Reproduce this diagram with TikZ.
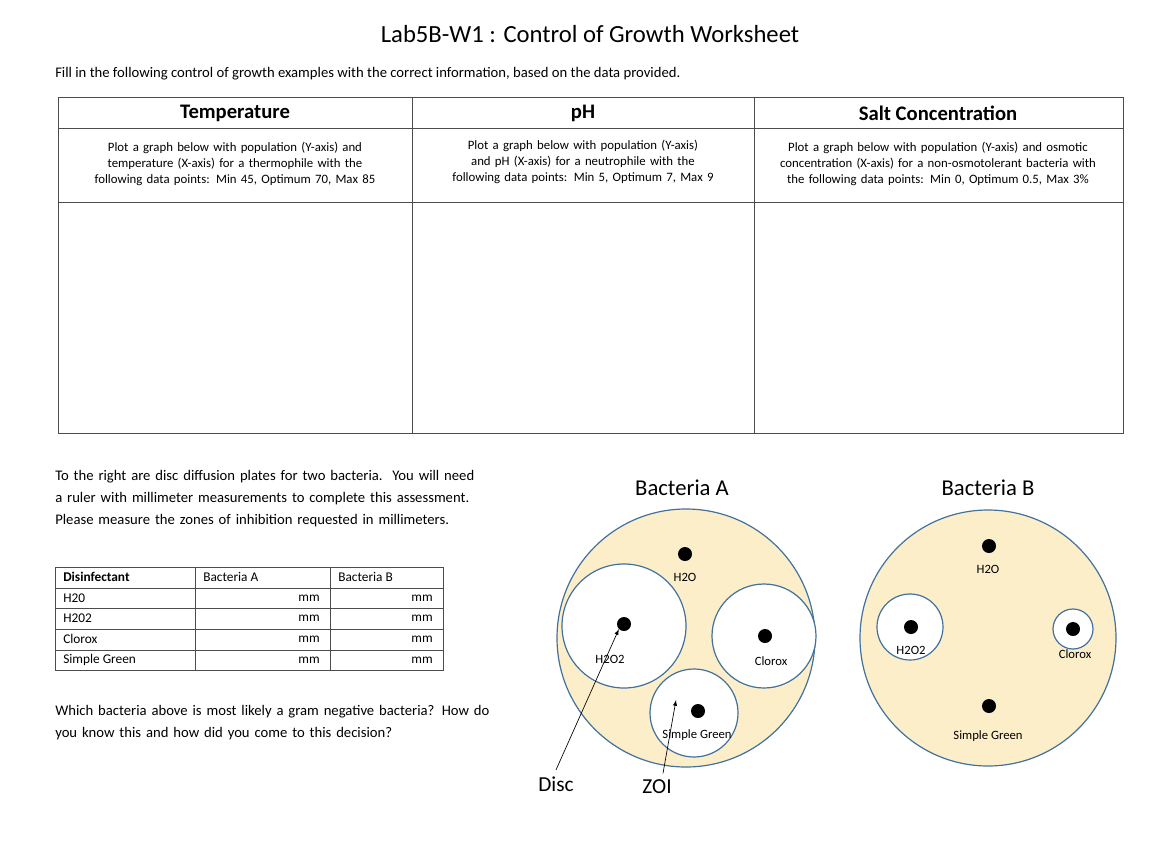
\documentclass[tikz,border=0pt]{standalone}
\usepackage{fontspec}
\setmainfont{Carlito}
\hyphenpenalty=10000 \exhyphenpenalty=10000
\definecolor{platefill}{RGB}{253,238,202}
\definecolor{plateline}{RGB}{65,113,156}
\begin{document}
\begin{tikzpicture}[x=0.75pt,y=-0.75pt,
  plate/.style={draw=plateline,line width=0.9pt,fill=platefill},
  zoi/.style={draw=plateline,line width=0.9pt,fill=white},
  disc/.style={circle,fill=black,inner sep=0pt,minimum size=10.5pt},
  lbl/.style={font=\fontsize{9.5}{11}\selectfont},
  grid/.style={draw=black!70,line width=0.5pt},
  desc/.style={font=\fontsize{9.6}{11.8}\selectfont,align=center,text width=240pt},
  body/.style={font=\fontsize{11}{16.5}\selectfont,align=left,anchor=north west,inner sep=0pt},
  cell/.style={font=\fontsize{10}{11}\selectfont,inner sep=0pt}]
\useasboundingbox (0,0) rectangle (1175,840);
\node (title) at (590,34) {\fontsize{18.5}{20}\selectfont Lab5B-W1 : Control of Growth Worksheet};
\node[body,anchor=west] (intro) at (55,74) {Fill in the following control of growth examples with the correct information, based on the data provided.};
% top table
\draw[grid] (58,97) rectangle (1123,433);
\draw[grid] (58,128) -- (1123,128) (58,202) -- (1123,202);
\draw[grid] (412,97) -- (412,433) (754,97) -- (754,433);
\node (h1) at (235,113) {\fontsize{15.5}{17}\selectfont\bfseries Temperature};
\node (h2) at (583,113) {\fontsize{15.5}{17}\selectfont\bfseries pH};
\node (h3) at (938,113) {\fontsize{15.5}{17}\selectfont\bfseries Salt Concentration};
\node[desc] (d1) at (235,164) {Plot a graph below with population (Y-axis) and temperature (X-axis) for a thermophile with the following data points: Min 45, Optimum 70, Max 85};
\node[desc,text width=232pt] (d2) at (583,162) {Plot a graph below with population (Y-axis) and pH (X-axis) for a neutrophile with the following data points: Min 5, Optimum 7, Max 9};
\node[desc,text width=270pt] (d3) at (938,164) {Plot a graph below with population (Y-axis) and osmotic concentration (X-axis) for a non-osmotolerant bacteria with the following data points: Min 0, Optimum 0.5, Max 3\%};
% left text
\node[body,text width=330pt] (t1) at (55,470) {To the right are disc diffusion plates for two bacteria.\ \ You will need a ruler with millimeter measurements to complete this assessment.\ \ Please measure the zones of inhibition requested in millimeters.};
\node[body,text width=345pt] (t2) at (55,705) {Which bacteria above is most likely a gram negative bacteria? How do you know this and how did you come to this decision?};
% small table
\draw[grid] (55,567) rectangle (443,670);
\foreach \y in {588,608,629,650} \draw[grid] (55,\y) -- (443,\y);
\draw[grid] (195,567) -- (195,670) (330,567) -- (330,670);
\node[cell,anchor=west,font=\fontsize{10}{11}\selectfont\bfseries] (c0) at (63,577) {Disinfectant};
\node[cell,anchor=west] (c01) at (203,577) {Bacteria A};
\node[cell,anchor=west] (c02) at (338,577) {Bacteria B};
\foreach \n/\y in {H20/598,H202/618,Clorox/639,Simple Green/660}{
  \node[cell,anchor=west] at (63,\y) {\n};
  \node[cell,anchor=east] at (320,\y) {mm};
  \node[cell,anchor=east] at (433,\y) {mm};
}
% Plate A
\node (ta) at (682,488) {\fontsize{17}{18}\selectfont Bacteria A};
\draw[plate] (686,638) circle (129);
\draw[zoi] (624,626) circle (62);
\draw[zoi] (764,636) circle (52);
\draw[zoi] (694,713) circle (44);
\node[disc] (a1) at (685,554) {};
\node[lbl] at (685,577) {H2O};
\node[disc] (a2) at (624,624) {};
\node[lbl] at (610,659) {H2O2};
\node[disc] (a3) at (765,636) {};
\node[lbl] at (771,661) {Clorox};
\node[disc] (a4) at (698,711) {};
\node[lbl] at (697,735) {Simple Green};
\node (disc) at (556,784) {\fontsize{16}{18}\selectfont Disc};
\node (zoi) at (657,787) {\fontsize{16}{18}\selectfont ZOI};
\coordinate (ztip) at (676,700);
\draw[-latex,line width=0.5pt] (disc.north) ++(0,-2) -- (a2.south west);
\draw[-latex,line width=0.5pt] (zoi.north) ++(6,-2) -- (ztip);
% Plate B
\node (tb) at (988,488) {\fontsize{17}{18}\selectfont Bacteria B};
\draw[plate] (988,638) circle (128);
\draw[zoi] (910,627) circle (33);
\draw[zoi] (1073,629) circle (20);
\node[disc] (b1) at (989,546) {};
\node[lbl] at (988,569) {H2O};
\node[disc] (b2) at (911,627) {};
\node[lbl] at (911,650) {H2O2};
\node[disc] (b3) at (1073,629) {};
\node[lbl] at (1075,654) {Clorox};
\node[disc] (b4) at (989,706) {};
\node[lbl] at (988,736) {Simple Green};
\end{tikzpicture}
\end{document}
